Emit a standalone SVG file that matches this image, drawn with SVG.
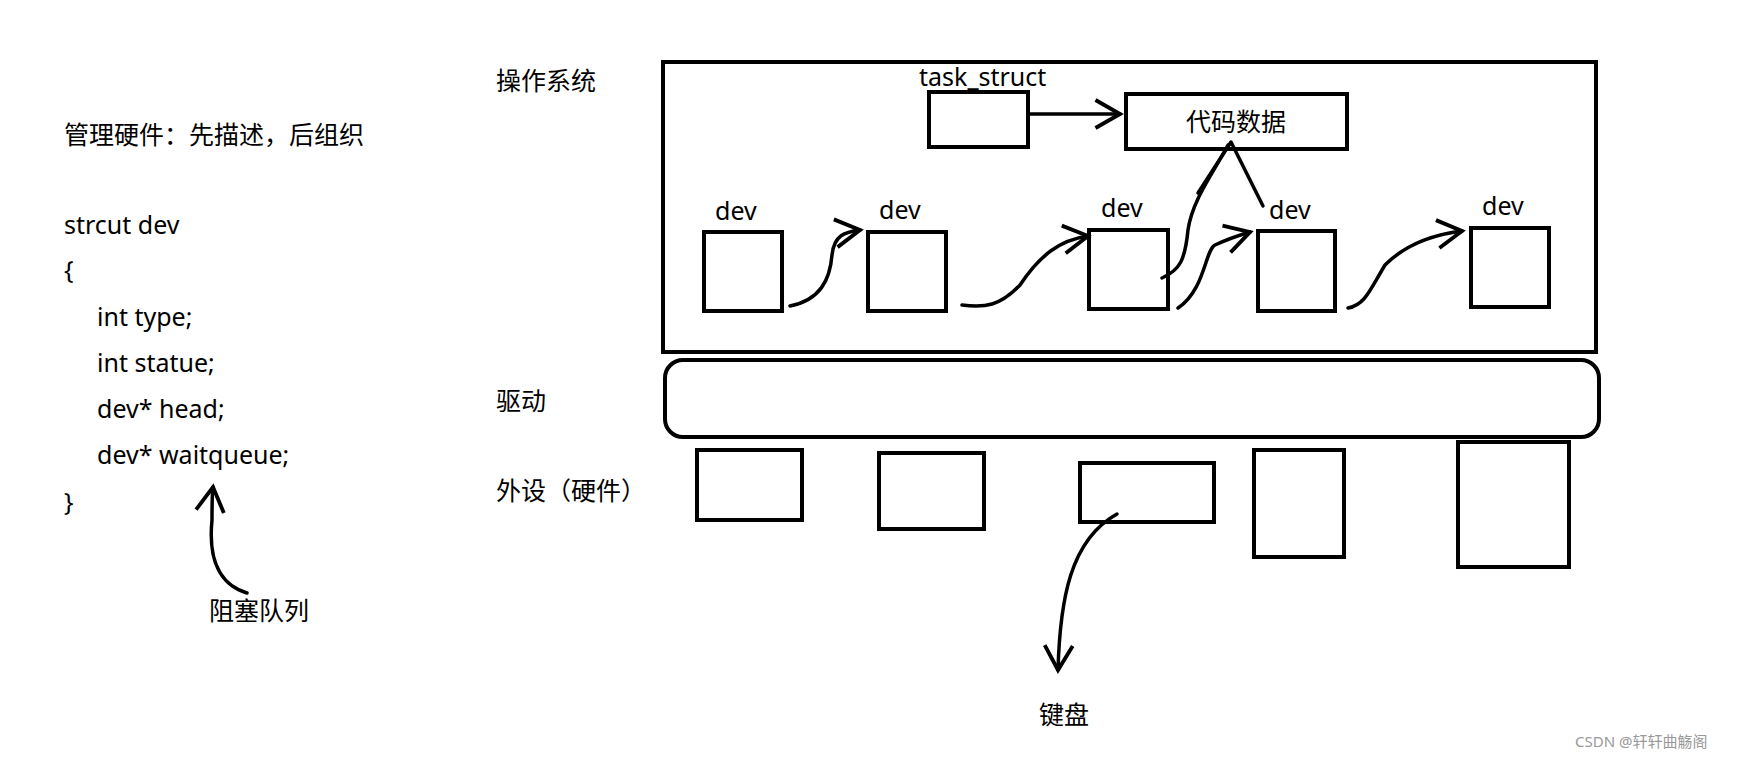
<svg xmlns="http://www.w3.org/2000/svg" width="1761" height="758" viewBox="0 0 1761 758">
<style>
text{font-family:"Noto Sans","Noto Sans CJK SC",sans-serif;font-size:25px;fill:#000}
.b{fill:#fff;stroke:#000;stroke-width:4}
.c{fill:none;stroke:#000;stroke-width:3.5;stroke-linecap:round;stroke-linejoin:round}
</style>
<defs><marker id="h" markerWidth="10" markerHeight="10" refX="8" refY="5" orient="auto" markerUnits="strokeWidth"><path d="M1,1 L8,5 L1,9" fill="none" stroke="#000" stroke-width="1.1"/></marker></defs>
<rect width="1761" height="758" fill="#fff"/>
<g id="left">
<text x="64" y="144">管理硬件：先描述，后组织</text>
<text x="64" y="234">strcut dev</text>
<text x="64" y="279">{</text>
<text x="97" y="326">int type;</text>
<text x="97" y="372">int statue;</text>
<text x="97" y="418">dev* head;</text>
<text x="97" y="464">dev* waitqueue;</text>
<text x="64" y="511">}</text>
<text x="209" y="620">阻塞队列</text>
</g>
<g id="labels">
<text x="496" y="90">操作系统</text>
<text x="496" y="410">驱动</text>
<text x="496" y="500">外设（硬件）</text>
<text x="1039" y="724">键盘</text>
<text x="1575" y="747" style="font-size:15px;fill:#999">CSDN @轩轩曲觞阁</text>
</g>
<g id="os"><rect class="b" x="663" y="62" width="933" height="290"/></g>
<g id="task"><text x="919" y="86">task_struct</text><rect class="b" x="929" y="92" width="99" height="55"/></g>
<g id="code"><rect class="b" x="1126" y="94" width="221" height="55"/><text x="1236" y="131" text-anchor="middle">代码数据</text></g>
<g id="dev1"><text x="715" y="220">dev</text><rect class="b" x="704" y="232" width="78" height="79"/></g>
<g id="dev2"><text x="879" y="219">dev</text><rect class="b" x="868" y="232" width="78" height="79"/></g>
<g id="dev3"><text x="1101" y="217">dev</text><rect class="b" x="1089" y="230" width="79" height="79"/></g>
<g id="dev4"><text x="1269" y="219">dev</text><rect class="b" x="1258" y="231" width="77" height="80"/></g>
<g id="dev5"><text x="1482" y="215">dev</text><rect class="b" x="1471" y="228" width="78" height="79"/></g>
<g id="driver"><rect class="b" x="665" y="360" width="934" height="77" rx="18"/></g>
<g id="hw1"><rect class="b" x="697" y="450" width="105" height="70"/></g>
<g id="hw2"><rect class="b" x="879" y="453" width="105" height="76"/></g>
<g id="hw3"><rect class="b" x="1080" y="463" width="134" height="59"/></g>
<g id="hw4"><rect class="b" x="1254" y="450" width="90" height="107"/></g>
<g id="hw5"><rect class="b" x="1458" y="442" width="111" height="125"/></g>
<g id="connectors">
<path class="c" d="M1030,114 L1120,114" marker-end="url(#h)"/>
<path class="c" d="M790,306 C820,300 830,280 832,255 C834,235 845,232 860,230" marker-end="url(#h)"/>
<path class="c" d="M962,305 C985,308 1000,306 1020,285 C1040,255 1060,240 1088,236" marker-end="url(#h)"/>
<path class="c" d="M1178,308 C1205,290 1205,250 1215,245 C1230,238 1240,235 1250,232" marker-end="url(#h)"/>
<path class="c" d="M1348,308 C1365,305 1370,290 1385,265 C1405,245 1430,235 1462,231" marker-end="url(#h)"/>
<path class="c" d="M1162,278 C1180,270 1185,260 1188,230 C1192,200 1215,170 1228,145"/>
<path class="c" d="M1198,193 L1231,142 L1263,206"/>
<path class="c" d="M1117,514 C1070,540 1060,600 1058,670" marker-end="url(#h)"/>
<path class="c" d="M247,593 C220,585 208,560 212,520 C212,505 212,495 213,487" marker-end="url(#h)"/>
</g>
</svg>
